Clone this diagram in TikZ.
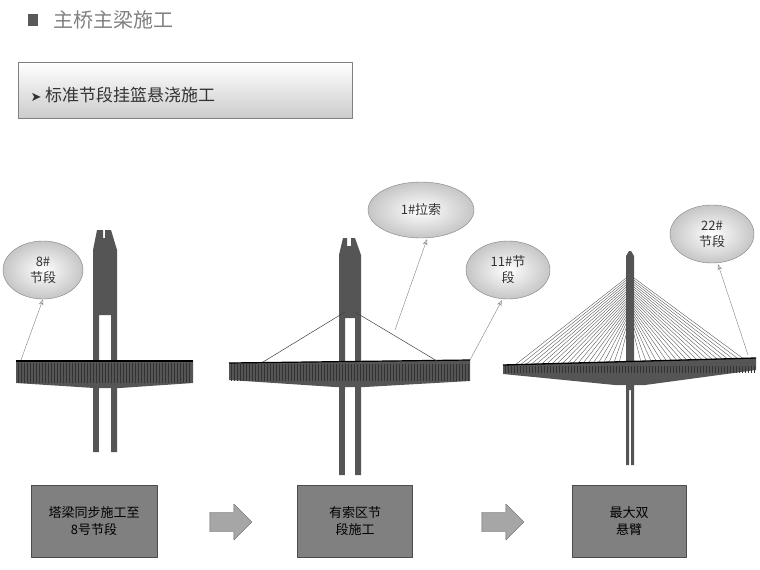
\documentclass[tikz,border=0pt]{standalone}
\usepackage{fontspec}
\setmainfont{Noto Sans CJK SC}
\newfontfamily\symfont{DejaVu Sans}
\usetikzlibrary{arrows.meta,calc,positioning,shapes.arrows,shapes.geometric}
\definecolor{deckgray}{HTML}{555555}
\definecolor{boxgray}{HTML}{808080}
\tikzset{
  callout/.style={ellipse,draw=gray,inner color=white,outer color=gray!45,align=center,font=\fontsize{13}{16}\selectfont,text=black!80,minimum width=80pt,minimum height=58pt,inner sep=1pt},
  stagebox/.style={draw=black!70,fill=boxgray,align=center,font=\fontsize{13}{17}\selectfont,text=black,minimum width=126pt,minimum height=72pt},
  pointer/.style={gray,-{Stealth[length=6pt,open]},thin},
  cable/.style={black!75,line width=0.5pt},
  stepshape/.style={single arrow,draw=black!60,fill=gray!70,minimum height=42pt,minimum width=36pt,single arrow head extend=3pt}
}
\begin{document}
\begin{tikzpicture}[x=1pt,y=-1pt,line join=round]
\useasboundingbox (0,0) rectangle (760,570);
% heading
\fill[black!65] (28,14) rectangle (38,26);
\node[anchor=west,text=gray,font=\fontsize{20}{24}\selectfont] (head) at (50,20) {主桥主梁施工};
\shade[top color=white,bottom color=gray!40,draw=gray] (18,62) rectangle (352,118);
\node[anchor=west,text=black!80,font=\fontsize{17}{20}\selectfont] (sub) at (27,95) {{\symfont\fontsize{13}{16}\selectfont ➤}\ 标准节段挂篮悬浇施工};
% bridge 1
\fill[deckgray] (97,230) -- (103,230) -- (103,238) -- (105,238) -- (105,230) -- (111,230) -- (117,250) -- (117,452) -- (111,452) -- (111,315) -- (99,315) -- (99,452) -- (93,452) -- (93,250) -- cycle;
\fill[white] (99,390) rectangle (111,452);
\fill[deckgray] (16,361) -- (193,361) -- (193,383) -- (120,388) -- (94,388) -- (16,383) -- cycle;
\foreach \i in {18,21,...,190} \draw[black!80,line width=0.3pt] (\i,363) -- (\i,383);
\draw[black,line width=1.2pt] (16,361) -- (193,361);
% bridge 2
\fill[deckgray] (343,238) -- (347,238) -- (347,246) -- (351,246) -- (351,238) -- (355,238) -- (361,255) -- (361,475) -- (355,475) -- (355,318) -- (345,318) -- (345,475) -- (339,475) -- (339,255) -- cycle;
\fill[white] (345,390) rectangle (355,475);
\fill[deckgray] (229,363) -- (470,360) -- (470,381) -- (365,387) -- (335,387) -- (229,380) -- cycle;
\foreach \i in {231,234,...,468} \draw[black!80,line width=0.3pt] (\i,364) -- (\i,381);
\draw[black,line width=1.2pt] (229,363) -- (470,360);
\coordinate (t2) at (345,312); \coordinate (t2r) at (355,312);
\coordinate (a2l) at (263,362); \coordinate (a2r) at (437,361);
\draw[cable] (t2) -- (a2l); \draw[cable] (t2r) -- (a2r);
% bridge 3
\foreach \k in {0,...,20} {
  \draw[black!70,line width=0.35pt] (630,{275+\k*2.2}) -- ({515+\k*5.2},{365-\k*0.1});
  \draw[black!70,line width=0.35pt] (630,{275+\k*2.2}) -- ({745-\k*5.2},{360+\k*0.1});
}
\fill[deckgray] (626,256) -- (629,251) -- (631,251) -- (634,256) -- (634,465) -- (631,465) -- (631,390) -- (629,390) -- (629,465) -- (626,465) -- cycle;
\fill[deckgray] (503,365) -- (756,358) -- (756,370) -- (645,385) -- (615,385) -- (503,374) -- cycle;
\foreach \i in {505,508,...,754} \draw[black!80,line width=0.25pt] (\i,366) -- (\i,373);
\draw[black,line width=1.3pt] (503,365) -- (756,358);
% callouts
\node[callout] (c1) at (43,270) {8\#\\节段};
\node[callout,minimum width=106pt,minimum height=56pt] (c2) at (421,210) {1\#拉索};
\node[callout,minimum width=84pt] (c3) at (508,270) {11\#节\\段};
\node[callout,minimum width=84pt] (c4) at (712,234) {22\#\\节段};
\coordinate (p1) at (21,360); \coordinate (p2) at (395,330);
\coordinate (p3) at (470,360); \coordinate (p4) at (748,355);
\draw[pointer] (p1) -- (c1.south);
\draw[pointer] (p2) -- ($(c2.south)+(6,1)$);
\draw[pointer] (p3) -- ($(c3.south)+(-6,1)$);
\draw[pointer] (p4) -- ($(c4.south)+(6,1)$);
% stages
\node[stagebox] (s1) at (94,521) {塔梁同步施工至\\8号节段};
\node[stagebox,minimum width=115pt] (s2) at (355,521) {有索区节\\段施工};
\node[stagebox,minimum width=114pt] (s3) at (629,521) {最大双\\悬臂};
\node[stepshape] (g1) at (226,522) {};
\node[stepshape] (g2) at (498,522) {};
\end{tikzpicture}
\end{document}
